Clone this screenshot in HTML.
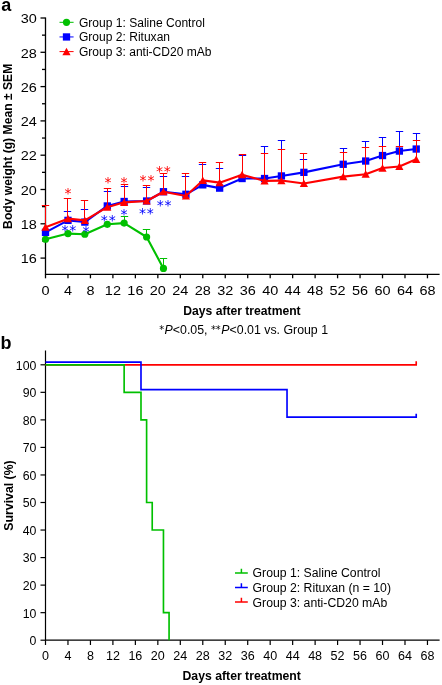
<!DOCTYPE html>
<html lang="en"><head><meta charset="utf-8"><title>Figure</title>
<style>html,body{margin:0;padding:0;background:#fff}svg{display:block}</style></head>
<body>
<svg width="442" height="685" viewBox="0 0 442 685" font-family='"Liberation Sans", sans-serif' fill="#000">
<rect width="442" height="685" fill="#fff"/>
<text x="1.2" y="11.2" font-size="18" font-weight="bold">a</text>
<text x="0.5" y="348.6" font-size="18" font-weight="bold">b</text>
<g stroke="#000" stroke-width="1.3" fill="none">
<path d="M45.5 17.5V274.4H439.6"/>
<path d="M40.5 258.10H45.5"/>
<path d="M42.0 240.95H45.5"/>
<path d="M40.5 223.80H45.5"/>
<path d="M42.0 206.65H45.5"/>
<path d="M40.5 189.50H45.5"/>
<path d="M42.0 172.35H45.5"/>
<path d="M40.5 155.20H45.5"/>
<path d="M42.0 138.05H45.5"/>
<path d="M40.5 120.90H45.5"/>
<path d="M42.0 103.75H45.5"/>
<path d="M40.5 86.60H45.5"/>
<path d="M42.0 69.45H45.5"/>
<path d="M40.5 52.30H45.5"/>
<path d="M42.0 35.15H45.5"/>
<path d="M40.5 18.00H45.5"/>
<path d="M45.50 274.4v3.9"/>
<path d="M67.97 274.4v3.9"/>
<path d="M90.44 274.4v3.9"/>
<path d="M112.90 274.4v3.9"/>
<path d="M135.37 274.4v3.9"/>
<path d="M157.84 274.4v3.9"/>
<path d="M180.31 274.4v3.9"/>
<path d="M202.78 274.4v3.9"/>
<path d="M225.24 274.4v3.9"/>
<path d="M247.71 274.4v3.9"/>
<path d="M270.18 274.4v3.9"/>
<path d="M292.65 274.4v3.9"/>
<path d="M315.12 274.4v3.9"/>
<path d="M337.58 274.4v3.9"/>
<path d="M360.05 274.4v3.9"/>
<path d="M382.52 274.4v3.9"/>
<path d="M404.99 274.4v3.9"/>
<path d="M427.46 274.4v3.9"/>
</g>
<text transform="translate(36.90 263.30) scale(1.14 1)" font-size="12.7" text-anchor="end">16</text>
<text transform="translate(36.90 229.00) scale(1.14 1)" font-size="12.7" text-anchor="end">18</text>
<text transform="translate(36.90 194.70) scale(1.14 1)" font-size="12.7" text-anchor="end">20</text>
<text transform="translate(36.90 160.40) scale(1.14 1)" font-size="12.7" text-anchor="end">22</text>
<text transform="translate(36.90 126.10) scale(1.14 1)" font-size="12.7" text-anchor="end">24</text>
<text transform="translate(36.90 91.80) scale(1.14 1)" font-size="12.7" text-anchor="end">26</text>
<text transform="translate(36.90 57.50) scale(1.14 1)" font-size="12.7" text-anchor="end">28</text>
<text transform="translate(36.90 23.20) scale(1.14 1)" font-size="12.7" text-anchor="end">30</text>
<text transform="translate(45.50 295.10) scale(1.14 1)" font-size="12.7" text-anchor="middle">0</text>
<text transform="translate(67.97 295.10) scale(1.14 1)" font-size="12.7" text-anchor="middle">4</text>
<text transform="translate(90.44 295.10) scale(1.14 1)" font-size="12.7" text-anchor="middle">8</text>
<text transform="translate(112.90 295.10) scale(1.14 1)" font-size="12.7" text-anchor="middle">12</text>
<text transform="translate(135.37 295.10) scale(1.14 1)" font-size="12.7" text-anchor="middle">16</text>
<text transform="translate(157.84 295.10) scale(1.14 1)" font-size="12.7" text-anchor="middle">20</text>
<text transform="translate(180.31 295.10) scale(1.14 1)" font-size="12.7" text-anchor="middle">24</text>
<text transform="translate(202.78 295.10) scale(1.14 1)" font-size="12.7" text-anchor="middle">28</text>
<text transform="translate(225.24 295.10) scale(1.14 1)" font-size="12.7" text-anchor="middle">32</text>
<text transform="translate(247.71 295.10) scale(1.14 1)" font-size="12.7" text-anchor="middle">36</text>
<text transform="translate(270.18 295.10) scale(1.14 1)" font-size="12.7" text-anchor="middle">40</text>
<text transform="translate(292.65 295.10) scale(1.14 1)" font-size="12.7" text-anchor="middle">44</text>
<text transform="translate(315.12 295.10) scale(1.14 1)" font-size="12.7" text-anchor="middle">48</text>
<text transform="translate(337.58 295.10) scale(1.14 1)" font-size="12.7" text-anchor="middle">52</text>
<text transform="translate(360.05 295.10) scale(1.14 1)" font-size="12.7" text-anchor="middle">56</text>
<text transform="translate(382.52 295.10) scale(1.14 1)" font-size="12.7" text-anchor="middle">60</text>
<text transform="translate(404.99 295.10) scale(1.14 1)" font-size="12.7" text-anchor="middle">64</text>
<text transform="translate(427.46 295.10) scale(1.14 1)" font-size="12.7" text-anchor="middle">68</text>
<text x="241.95" y="314.7" font-size="12.15" font-weight="bold" text-anchor="middle">Days after treatment</text>
<text x="159.3" y="334.1" font-size="12.35"><tspan font-family="DejaVu Sans, sans-serif" font-size="9.8" dy="-0.9">*</tspan><tspan font-style="italic" dy="0.9" dx="0.4">P</tspan>&lt;0.05, <tspan font-family="DejaVu Sans, sans-serif" font-size="9.8" dy="-0.9">**</tspan><tspan font-style="italic" dy="0.9" dx="0.6">P</tspan>&lt;0.01 vs. Group 1</text>
<text transform="translate(12.4 146.3) rotate(-90)" font-size="12.15" font-weight="bold" text-anchor="middle">Body weight (g) Mean ± SEM</text>
<g stroke="#00c000" stroke-width="1" fill="none">
<path d="M124.50 223.11V216.50M120.80 216.50h7.4"/>
<path d="M146.50 237.01V229.50M142.80 229.50h7.4"/>
<path d="M163.50 268.39V258.50M159.80 258.50h7.4"/>
</g>
<polyline points="45.50,239.23 67.97,233.58 84.82,234.26 107.29,224.31 124.14,223.11 146.61,237.01 163.46,268.39" fill="none" stroke="#00c000" stroke-width="2.1" stroke-linejoin="round"/>
<g fill="#00c000">
<circle cx="45.50" cy="239.23" r="3.6"/>
<circle cx="67.97" cy="233.58" r="3.6"/>
<circle cx="84.82" cy="234.26" r="3.6"/>
<circle cx="107.29" cy="224.31" r="3.6"/>
<circle cx="124.14" cy="223.11" r="3.6"/>
<circle cx="146.61" cy="237.01" r="3.6"/>
<circle cx="163.46" cy="268.39" r="3.6"/>
</g>
<g stroke="#0000ff" stroke-width="1" fill="none">
<path d="M67.50 220.37V211.50M63.80 211.50h7.4"/>
<path d="M84.50 222.08V209.50M80.80 209.50h7.4"/>
<path d="M107.50 205.96V191.50M103.80 191.50h7.4"/>
<path d="M124.50 201.50V186.50M120.80 186.50h7.4"/>
<path d="M146.50 200.99V187.50M142.80 187.50h7.4"/>
<path d="M163.50 191.73V176.50M159.80 176.50h7.4"/>
<path d="M185.50 194.30V176.50M181.80 176.50h7.4"/>
<path d="M202.50 184.87V164.50M198.80 164.50h7.4"/>
<path d="M219.50 188.13V168.50M215.80 168.50h7.4"/>
<path d="M242.50 178.52V155.50M238.80 155.50h7.4"/>
<path d="M264.50 178.52V146.50M260.80 146.50h7.4"/>
<path d="M281.50 175.95V140.50M277.80 140.50h7.4"/>
<path d="M303.50 172.35V159.50M299.80 159.50h7.4"/>
<path d="M343.50 164.29V148.50M339.80 148.50h7.4"/>
<path d="M365.50 161.03V141.50M361.80 141.50h7.4"/>
<path d="M382.50 155.54V137.50M378.80 137.50h7.4"/>
<path d="M399.50 151.08V131.50M395.80 131.50h7.4"/>
<path d="M416.50 149.03V133.50M412.80 133.50h7.4"/>
</g>
<polyline points="45.50,232.37 67.97,220.37 84.82,222.08 107.29,205.96 124.14,201.50 146.61,200.99 163.46,191.73 185.93,194.30 202.78,184.87 219.63,188.13 242.09,178.52 264.56,178.52 281.41,175.95 303.88,172.35 343.20,164.29 365.67,161.03 382.52,155.54 399.37,151.08 416.22,149.03" fill="none" stroke="#0000ff" stroke-width="2.1" stroke-linejoin="round"/>
<g fill="#0000ff">
<rect x="41.85" y="228.72" width="7.3" height="7.3"/>
<rect x="64.32" y="216.72" width="7.3" height="7.3"/>
<rect x="81.17" y="218.43" width="7.3" height="7.3"/>
<rect x="103.64" y="202.31" width="7.3" height="7.3"/>
<rect x="120.49" y="197.85" width="7.3" height="7.3"/>
<rect x="142.96" y="197.34" width="7.3" height="7.3"/>
<rect x="159.81" y="188.08" width="7.3" height="7.3"/>
<rect x="182.28" y="190.65" width="7.3" height="7.3"/>
<rect x="199.13" y="181.22" width="7.3" height="7.3"/>
<rect x="215.98" y="184.48" width="7.3" height="7.3"/>
<rect x="238.44" y="174.87" width="7.3" height="7.3"/>
<rect x="260.91" y="174.87" width="7.3" height="7.3"/>
<rect x="277.76" y="172.30" width="7.3" height="7.3"/>
<rect x="300.23" y="168.70" width="7.3" height="7.3"/>
<rect x="339.55" y="160.64" width="7.3" height="7.3"/>
<rect x="362.02" y="157.38" width="7.3" height="7.3"/>
<rect x="378.87" y="151.89" width="7.3" height="7.3"/>
<rect x="395.72" y="147.43" width="7.3" height="7.3"/>
<rect x="412.57" y="145.38" width="7.3" height="7.3"/>
</g>
<g stroke="#ff0000" stroke-width="1" fill="none">
<path d="M45.50 227.23V205.50M41.80 205.50h7.4"/>
<path d="M67.50 218.65V198.50M63.80 198.50h7.4"/>
<path d="M84.50 220.37V200.50M80.80 200.50h7.4"/>
<path d="M107.50 207.16V188.50M103.80 188.50h7.4"/>
<path d="M124.50 202.36V184.50M120.80 184.50h7.4"/>
<path d="M146.50 200.99V185.50M142.80 185.50h7.4"/>
<path d="M163.50 191.73V173.50M159.80 173.50h7.4"/>
<path d="M185.50 196.02V173.50M181.80 173.50h7.4"/>
<path d="M202.50 180.41V162.50M198.80 162.50h7.4"/>
<path d="M219.50 182.64V162.50M215.80 162.50h7.4"/>
<path d="M242.50 174.75V154.50M238.80 154.50h7.4"/>
<path d="M264.50 180.92V153.50M260.80 153.50h7.4"/>
<path d="M281.50 180.58V149.50M277.80 149.50h7.4"/>
<path d="M303.50 183.50V153.50M299.80 153.50h7.4"/>
<path d="M343.50 176.64V152.50M339.80 152.50h7.4"/>
<path d="M365.50 174.24V147.50M361.80 147.50h7.4"/>
<path d="M382.50 168.06V146.50M378.80 146.50h7.4"/>
<path d="M399.50 166.52V146.50M395.80 146.50h7.4"/>
<path d="M416.50 159.32V140.50M412.80 140.50h7.4"/>
</g>
<polyline points="45.50,227.23 67.97,218.65 84.82,220.37 107.29,207.16 124.14,202.36 146.61,200.99 163.46,191.73 185.93,196.02 202.78,180.41 219.63,182.64 242.09,174.75 264.56,180.92 281.41,180.58 303.88,183.50 343.20,176.64 365.67,174.24 382.52,168.06 399.37,166.52 416.22,159.32" fill="none" stroke="#ff0000" stroke-width="2.1" stroke-linejoin="round"/>
<g fill="#ff0000">
<path d="M45.50 223.33l4.1 7.5h-8.2z"/>
<path d="M67.97 214.75l4.1 7.5h-8.2z"/>
<path d="M84.82 216.47l4.1 7.5h-8.2z"/>
<path d="M107.29 203.26l4.1 7.5h-8.2z"/>
<path d="M124.14 198.46l4.1 7.5h-8.2z"/>
<path d="M146.61 197.09l4.1 7.5h-8.2z"/>
<path d="M163.46 187.83l4.1 7.5h-8.2z"/>
<path d="M185.93 192.12l4.1 7.5h-8.2z"/>
<path d="M202.78 176.51l4.1 7.5h-8.2z"/>
<path d="M219.63 178.74l4.1 7.5h-8.2z"/>
<path d="M242.09 170.85l4.1 7.5h-8.2z"/>
<path d="M264.56 177.02l4.1 7.5h-8.2z"/>
<path d="M281.41 176.68l4.1 7.5h-8.2z"/>
<path d="M303.88 179.60l4.1 7.5h-8.2z"/>
<path d="M343.20 172.74l4.1 7.5h-8.2z"/>
<path d="M365.67 170.34l4.1 7.5h-8.2z"/>
<path d="M382.52 164.16l4.1 7.5h-8.2z"/>
<path d="M399.37 162.62l4.1 7.5h-8.2z"/>
<path d="M416.22 155.42l4.1 7.5h-8.2z"/>
</g>
<text x="68.00" y="197.90" font-size="14" font-family="DejaVu Sans, sans-serif" text-anchor="middle" fill="#ff0000">*</text>
<text x="107.90" y="187.00" font-size="14" font-family="DejaVu Sans, sans-serif" text-anchor="middle" fill="#ff0000">*</text>
<text x="124.00" y="187.00" font-size="14" font-family="DejaVu Sans, sans-serif" text-anchor="middle" fill="#ff0000">*</text>
<text x="143.10 150.90" y="185.30" font-size="14" font-family="DejaVu Sans, sans-serif" text-anchor="middle" fill="#ff0000">**</text>
<text x="159.40 167.20" y="176.10" font-size="14" font-family="DejaVu Sans, sans-serif" text-anchor="middle" fill="#ff0000">**</text>
<text x="64.95 72.70" y="234.70" font-size="14" font-family="DejaVu Sans, sans-serif" text-anchor="middle" fill="#0000ff">**</text>
<text x="86.10" y="235.70" font-size="14" font-family="DejaVu Sans, sans-serif" text-anchor="middle" fill="#0000ff">*</text>
<text x="104.20 112.20" y="224.80" font-size="14" font-family="DejaVu Sans, sans-serif" text-anchor="middle" fill="#0000ff">**</text>
<text x="124.00" y="219.00" font-size="14" font-family="DejaVu Sans, sans-serif" text-anchor="middle" fill="#0000ff">*</text>
<text x="142.60 150.30" y="217.90" font-size="14" font-family="DejaVu Sans, sans-serif" text-anchor="middle" fill="#0000ff">**</text>
<text x="160.30 168.10" y="209.60" font-size="14" font-family="DejaVu Sans, sans-serif" text-anchor="middle" fill="#0000ff">**</text>
<path d="M59.5 22.30H73.6" stroke="#00c000" stroke-width="1"/>
<g fill="#00c000"><circle cx="66.50" cy="22.30" r="3.6"/></g>
<text transform="translate(79.00 26.55) scale(1 1.08)" font-size="12.05" text-anchor="start">Group 1: Saline Control</text>
<path d="M59.5 36.95H73.6" stroke="#0000ff" stroke-width="1"/>
<g fill="#0000ff"><rect x="62.85" y="33.30" width="7.3" height="7.3"/></g>
<text transform="translate(79.00 41.45) scale(1 1.08)" font-size="12.05" text-anchor="start">Group 2: Rituxan</text>
<path d="M59.5 51.60H73.6" stroke="#ff0000" stroke-width="1"/>
<g fill="#ff0000"><path d="M66.50 47.70l4.1 7.5h-8.2z"/></g>
<text transform="translate(79.00 56.35) scale(1 1.08)" font-size="12.05" text-anchor="start">Group 3: anti-CD20 mAb</text>
<g stroke="#000" stroke-width="1.2" fill="none">
<path d="M45.5 350.5V640.2H439.6"/>
<path d="M40.5 640.20H45.5"/>
<path d="M40.5 612.66H45.5"/>
<path d="M40.5 585.12H45.5"/>
<path d="M40.5 557.58H45.5"/>
<path d="M40.5 530.04H45.5"/>
<path d="M40.5 502.50H45.5"/>
<path d="M40.5 474.96H45.5"/>
<path d="M40.5 447.42H45.5"/>
<path d="M40.5 419.88H45.5"/>
<path d="M40.5 392.34H45.5"/>
<path d="M40.5 364.80H45.5"/>
<path d="M45.50 640.2v4.8"/>
<path d="M67.97 640.2v4.8"/>
<path d="M90.44 640.2v4.8"/>
<path d="M112.90 640.2v4.8"/>
<path d="M135.37 640.2v4.8"/>
<path d="M157.84 640.2v4.8"/>
<path d="M180.31 640.2v4.8"/>
<path d="M202.78 640.2v4.8"/>
<path d="M225.24 640.2v4.8"/>
<path d="M247.71 640.2v4.8"/>
<path d="M270.18 640.2v4.8"/>
<path d="M292.65 640.2v4.8"/>
<path d="M315.12 640.2v4.8"/>
<path d="M337.58 640.2v4.8"/>
<path d="M360.05 640.2v4.8"/>
<path d="M382.52 640.2v4.8"/>
<path d="M404.99 640.2v4.8"/>
<path d="M427.46 640.2v4.8"/>
</g>
<text x="36.40" y="645.10" font-size="12.3" text-anchor="end">0</text>
<text x="36.40" y="617.56" font-size="12.3" text-anchor="end">10</text>
<text x="36.40" y="590.02" font-size="12.3" text-anchor="end">20</text>
<text x="36.40" y="562.48" font-size="12.3" text-anchor="end">30</text>
<text x="36.40" y="534.94" font-size="12.3" text-anchor="end">40</text>
<text x="36.40" y="507.40" font-size="12.3" text-anchor="end">50</text>
<text x="36.40" y="479.86" font-size="12.3" text-anchor="end">60</text>
<text x="36.40" y="452.32" font-size="12.3" text-anchor="end">70</text>
<text x="36.40" y="424.78" font-size="12.3" text-anchor="end">80</text>
<text x="36.40" y="397.24" font-size="12.3" text-anchor="end">90</text>
<text x="36.40" y="369.70" font-size="12.3" text-anchor="end">100</text>
<text transform="translate(45.50 660.40) scale(1.02 1)" font-size="12.3" text-anchor="middle">0</text>
<text transform="translate(67.97 660.40) scale(1.02 1)" font-size="12.3" text-anchor="middle">4</text>
<text transform="translate(90.44 660.40) scale(1.02 1)" font-size="12.3" text-anchor="middle">8</text>
<text transform="translate(112.90 660.40) scale(1.02 1)" font-size="12.3" text-anchor="middle">12</text>
<text transform="translate(135.37 660.40) scale(1.02 1)" font-size="12.3" text-anchor="middle">16</text>
<text transform="translate(157.84 660.40) scale(1.02 1)" font-size="12.3" text-anchor="middle">20</text>
<text transform="translate(180.31 660.40) scale(1.02 1)" font-size="12.3" text-anchor="middle">24</text>
<text transform="translate(202.78 660.40) scale(1.02 1)" font-size="12.3" text-anchor="middle">28</text>
<text transform="translate(225.24 660.40) scale(1.02 1)" font-size="12.3" text-anchor="middle">32</text>
<text transform="translate(247.71 660.40) scale(1.02 1)" font-size="12.3" text-anchor="middle">36</text>
<text transform="translate(270.18 660.40) scale(1.02 1)" font-size="12.3" text-anchor="middle">40</text>
<text transform="translate(292.65 660.40) scale(1.02 1)" font-size="12.3" text-anchor="middle">44</text>
<text transform="translate(315.12 660.40) scale(1.02 1)" font-size="12.3" text-anchor="middle">48</text>
<text transform="translate(337.58 660.40) scale(1.02 1)" font-size="12.3" text-anchor="middle">52</text>
<text transform="translate(360.05 660.40) scale(1.02 1)" font-size="12.3" text-anchor="middle">56</text>
<text transform="translate(382.52 660.40) scale(1.02 1)" font-size="12.3" text-anchor="middle">60</text>
<text transform="translate(404.99 660.40) scale(1.02 1)" font-size="12.3" text-anchor="middle">64</text>
<text transform="translate(427.46 660.40) scale(1.02 1)" font-size="12.3" text-anchor="middle">68</text>
<text transform="translate(241.70 680.10) scale(1 1.06)" font-size="12.25" text-anchor="middle" font-weight="bold">Days after treatment</text>
<text transform="translate(12.5 495.5) rotate(-90)" font-size="12.3" font-weight="bold" text-anchor="middle">Survival (%)</text>
<path d="M45.5 364.80H416.22v-3.5" fill="none" stroke="#ff0000" stroke-width="1.65"/>
<path d="M45.5 362.05H140.99V389.59H287.03V417.13H416.22v-3.5" fill="none" stroke="#0000ff" stroke-width="1.65"/>
<path d="M45.5 364.80H124.14V392.34H140.99V419.88H146.61V502.50H152.22V530.04H163.46V612.66H169.07V640.20" fill="none" stroke="#00c000" stroke-width="1.65"/>
<path d="M235 573.00H247.8M241.4 573.00v-4.3" stroke="#00c000" stroke-width="1.5" fill="none"/>
<text transform="translate(252.60 577.00) scale(1 1.08)" font-size="12.25" text-anchor="start">Group 1: Saline Control</text>
<path d="M235 587.50H247.8M241.4 587.50v-4.3" stroke="#0000ff" stroke-width="1.5" fill="none"/>
<text transform="translate(252.60 591.80) scale(1 1.08)" font-size="12.25" text-anchor="start">Group 2: Rituxan (n = 10)</text>
<path d="M235 602.00H247.8M241.4 602.00v-4.3" stroke="#ff0000" stroke-width="1.5" fill="none"/>
<text transform="translate(252.60 606.60) scale(1 1.08)" font-size="12.25" text-anchor="start">Group 3: anti-CD20 mAb</text>
</svg>
</body></html>
